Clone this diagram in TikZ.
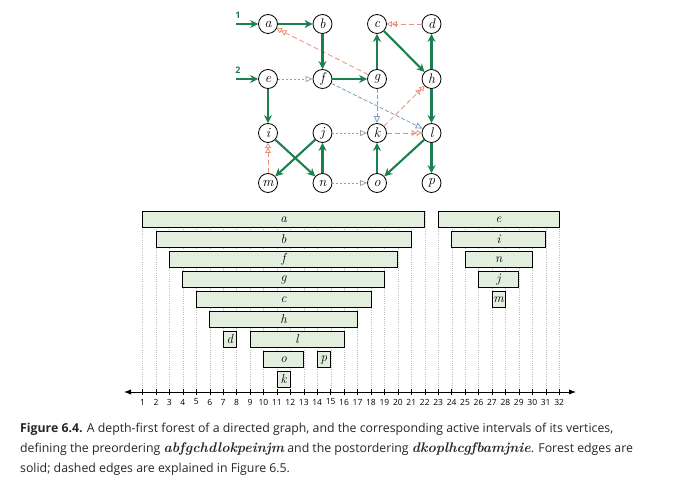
\documentclass[tikz,border=0pt]{standalone}
\usepackage{fontspec}
\setmainfont{Open Sans}
\newfontfamily\lmfont{Latin Modern Roman}
\newcommand{\vv}[1]{{\lmfont\itshape #1}}
\usetikzlibrary{arrows.meta}
\definecolor{tree}{HTML}{1A8050}
\definecolor{back}{HTML}{E8907A}
\definecolor{fwd}{HTML}{7A9CC8}
\definecolor{crs}{HTML}{A0A0A0}
\definecolor{boxfill}{HTML}{E2EFDE}
\tikzset{
 vtx/.style={circle,draw,thick,minimum size=19pt,inner sep=0pt,fill=white,font=\fontsize{14}{14}\selectfont},
 treeedge/.style={tree,line width=2.1pt,-{Stealth[length=8pt,width=8pt]}},
 backedge/.style={back,thick,dash pattern=on 5pt off 3pt,-{Triangle[open,length=5pt,width=6pt]Triangle[open,length=5pt,width=6pt]}},
 fwdedge/.style={fwd,thick,dash pattern=on 4pt off 2pt,-{Triangle[open,length=7pt,width=6pt]}},
 crossedge/.style={crs,thick,dash pattern=on 2pt off 2pt,-{Triangle[open,length=7pt,width=6pt]}},
 ivl/.style={draw,fill=boxfill,thick,minimum height=16pt,inner sep=0pt,font=\fontsize{13}{13}\selectfont},
}
\begin{document}
\begin{tikzpicture}[x=1pt,y=-1pt]
\useasboundingbox (0,0) rectangle (700,494);
% vertices
\foreach \n/\c/\r in {a/0/0,b/1/0,c/2/0,d/3/0,e/0/1,f/1/1,g/2/1,h/3/1,i/0/2,j/1/2,k/2/2,l/3/2,m/0/3,n/1/3,o/2/3,p/3/3}{
  \pgfmathsetmacro\xx{268+\c*54.5}
  \pgfmathsetmacro\yy{{24,79,133,183}[\r]}
  \node[vtx] (\n) at (\xx,\yy) {\vv{\n}};
}
\node[tree,font=\bfseries\small,anchor=south] (l1) at (238,22) {1};
\node[tree,font=\bfseries\small,anchor=south] (l2) at (238,77) {2};
\coordinate (s1) at (236,24);
\coordinate (s2) at (236,79);
% non-tree edges
\draw[crossedge] (e) -- (f);
\draw[crossedge] (j) -- (k);
\draw[crossedge] (n) -- (o);
\draw[backedge] (d) -- (c);
\draw[backedge] (g) -- (a);
\draw[backedge] (k) -- (h);
\draw[backedge] (m) -- (i);
\draw[backedge] (k) -- (l);
\draw[fwdedge] (g) -- (k);
\draw[fwdedge] (f) -- (l);
% tree edges
\draw[treeedge] (s1) -- (a);
\draw[treeedge] (s2) -- (e);
\foreach \u/\v in {a/b,b/f,f/g,g/c,c/h,h/d,h/l,l/o,o/k,l/p,e/i,i/n,n/j,j/m}
  \draw[treeedge] (\u) -- (\v);
% interval grid
\foreach \t in {1,...,32}{
  \pgfmathsetmacro\xx{142.5+(\t-1)*13.44}
  \draw[crs!70,very thin,dotted] (\xx,211) -- (\xx,392);
  \draw[thin] (\xx,389) -- (\xx,395);
  \node[font=\fontsize{8.5}{8.5}\selectfont] (t\t) at (\xx,402) {\t};
}
\coordinate (axl) at (124,392);
\coordinate (axr) at (576,392);
\draw[thick,{Latex[length=7pt]}-{Latex[length=7pt]}] (axl) -- (axr);
% intervals
\foreach \n/\s/\e/\r in {a/1/22/0,b/2/21/1,f/3/20/2,g/4/19/3,c/5/18/4,h/6/17/5,d/7/8/6,l/9/16/6,o/10/13/7,p/14/15/7,k/11/12/8,e/23/32/0,i/24/31/1,n/25/30/2,j/26/29/3,m/27/28/4}{
  \pgfmathsetmacro\xa{142.5+(\s-1)*13.44}
  \pgfmathsetmacro\xb{142.5+(\e-1)*13.44}
  \pgfmathsetmacro\yc{219.5+\r*20}
  \pgfmathsetmacro\w{\xb-\xa}
  \node[ivl,minimum width=\w pt] (I\n) at ({(\xa+\xb)/2},\yc) {\vv{\n}};
}
% caption
\node[anchor=north west,align=left,inner sep=0pt,font=\fontsize{12.3}{20}\selectfont,text=black!85] (cap) at (20,423)
{\textbf{Figure 6.4.} A depth-first forest of a directed graph, and the corresponding active intervals of its vertices,\\
defining the preordering {\fontsize{14}{20}\selectfont\bfseries\vv{abfgchdlokpeinjm}} and the postordering {\fontsize{14}{20}\selectfont\bfseries\vv{dkoplhcgfbamjnie}}. Forest edges are\\
solid; dashed edges are explained in Figure 6.5.};
\end{tikzpicture}
\end{document}
